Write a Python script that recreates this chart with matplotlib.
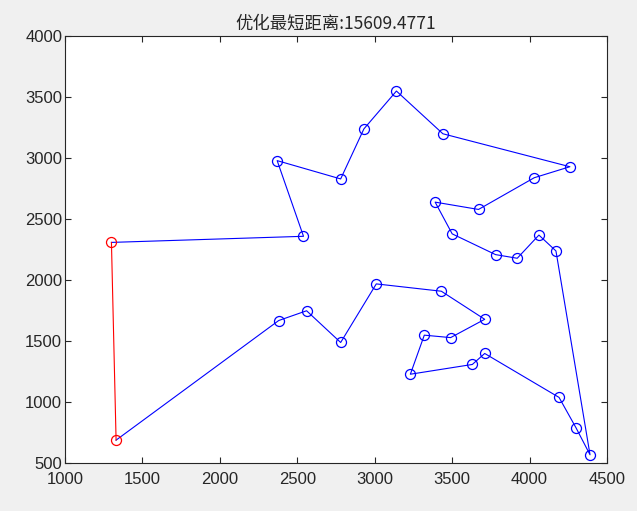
import matplotlib
matplotlib.use('Agg')
import matplotlib.pyplot as plt

# route order (first and last cities drawn in red)
route_x = [1300, 2540, 2370, 2780, 2930, 3140, 3440, 4260, 4030, 3670,
           3390, 3500, 3780, 3920, 4060, 4170, 4390, 4300, 4190, 3710,
           3630, 3230, 3320, 3490, 3710, 3430, 3010, 2780, 2560, 2380, 1330]
route_y = [2310, 2360, 2980, 2830, 3240, 3550, 3200, 2930, 2840, 2580,
           2640, 2380, 2210, 2180, 2370, 2240, 570, 790, 1040, 1400,
           1310, 1230, 1550, 1530, 1680, 1910, 1970, 1490, 1750, 1670, 690]
best_dist = 15609.4771

xticks = [1000, 1500, 2000, 2500, 3000, 3500, 4000, 4500]
yticks = [500, 1000, 1500, 2000, 2500, 3000, 3500, 4000]

plt.rcParams['font.family'] = ['Liberation Sans', 'Noto Sans CJK SC', 'DejaVu Sans']

fig = plt.figure(figsize=(6.37, 5.11), dpi=100, facecolor='#f0f0f0')
ax = fig.add_axes([0.102, 0.0933, 0.851, 0.836])

ax.plot(route_x, route_y, 'o-', color='#0000ff', mfc='none', ms=7.2, lw=0.8, mew=0.9,
        markevery=slice(1, len(route_x) - 1))
# closing segment back to the start
ax.plot([route_x[-1], route_x[0]], [route_y[-1], route_y[0]], 'o-', color='#ff0000',
        mfc='none', ms=7.2, lw=0.8, mew=0.9)

ax.set_xlim(1000, 4500)
ax.set_ylim(500, 4000)
ax.set_xticks(xticks)
ax.set_yticks(yticks)
ax.tick_params(direction='in', top=True, right=True, length=4, width=0.8,
               labelsize=12, colors='#262626', pad=2)
ax.tick_params(axis='x', pad=6)
for s in ax.spines.values():
    s.set_color('#262626')
    s.set_linewidth(0.8)

ax.set_title('优化最短距离:' + str(best_dist), fontsize=12.5, color='#262626',
             family=['Noto Sans CJK SC', 'DejaVu Sans'], pad=5)

fig.savefig('out.png', dpi=100, facecolor=fig.get_facecolor())
